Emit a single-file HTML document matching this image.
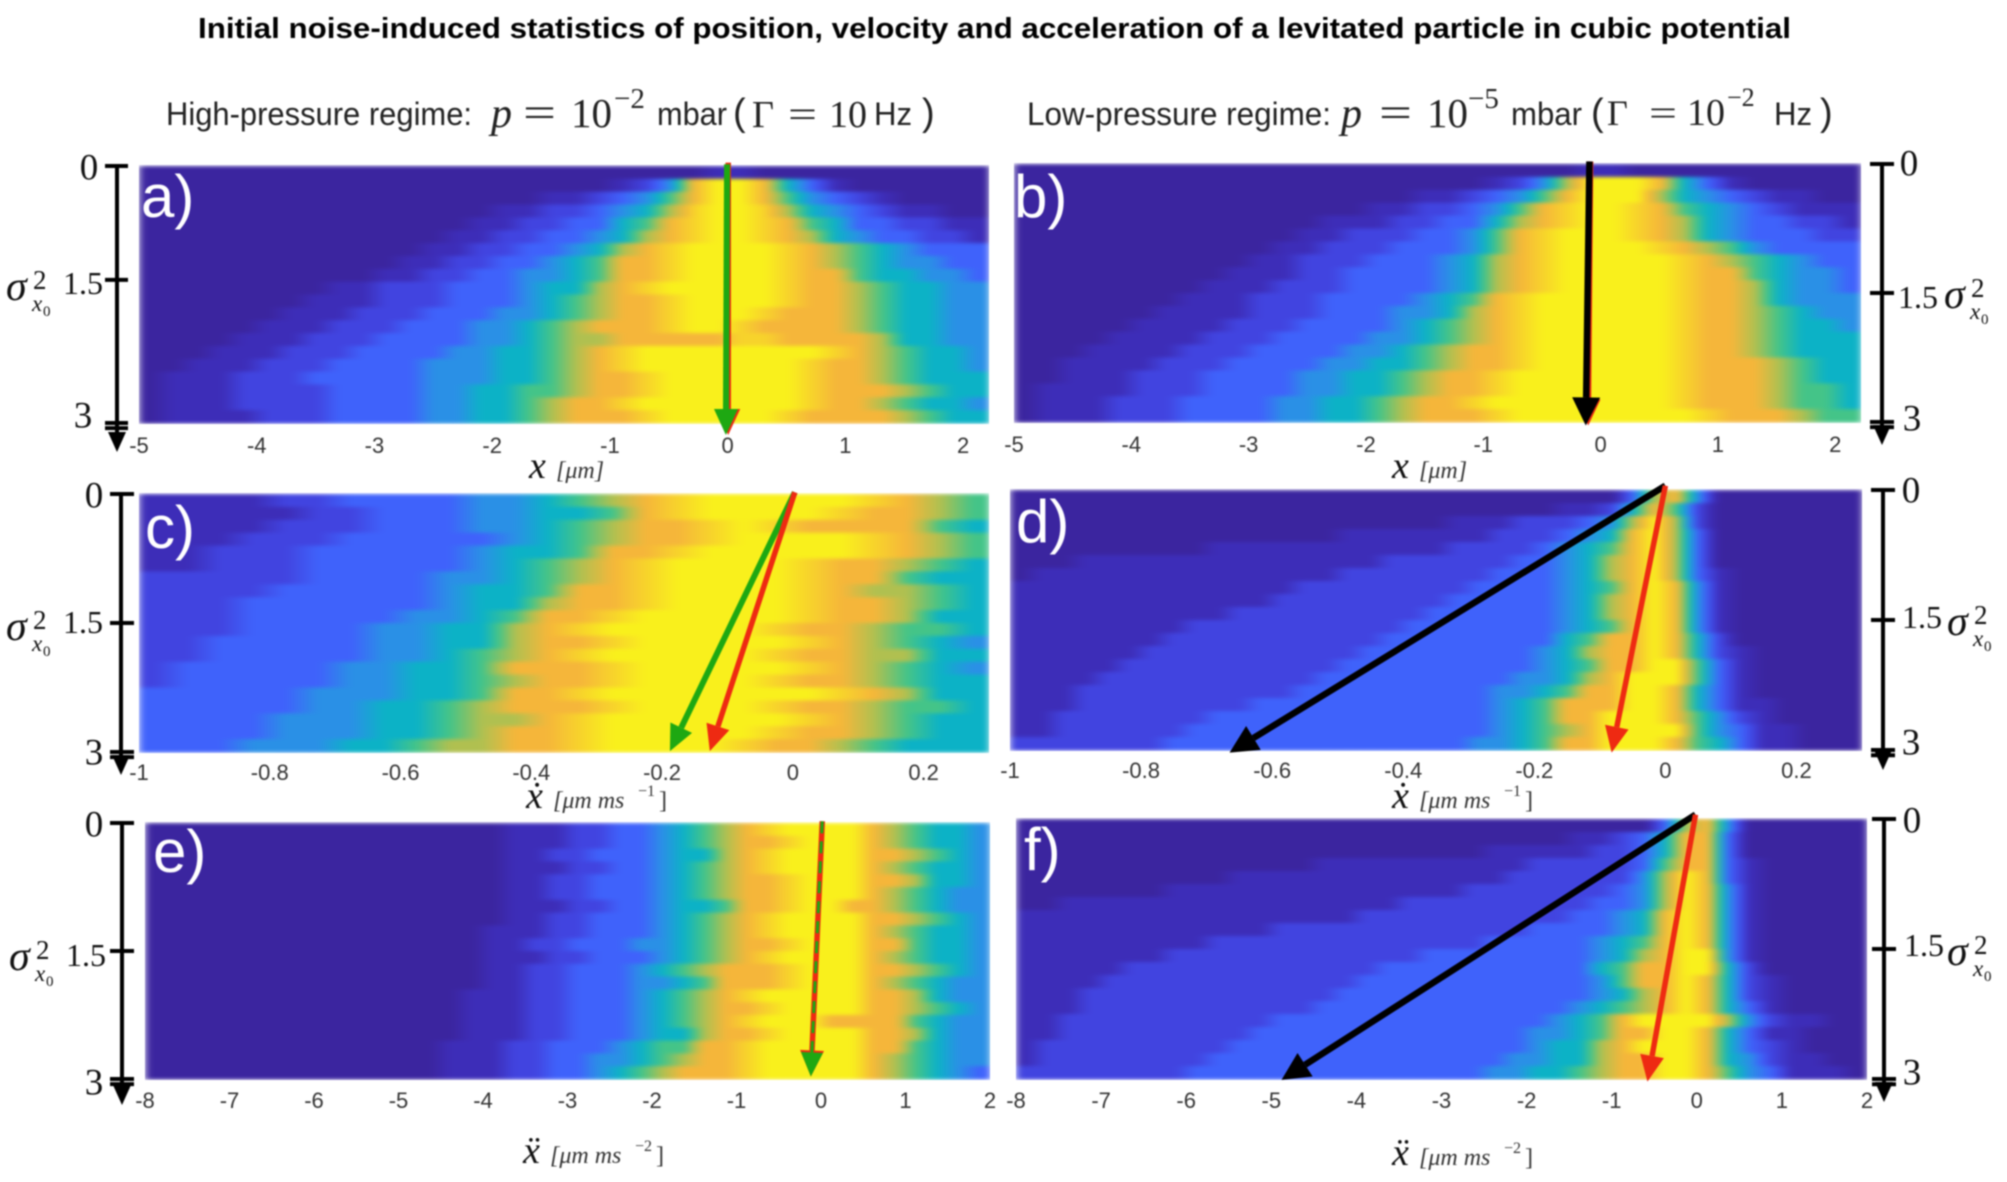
<!DOCTYPE html>
<html lang="en">
<head>
<meta charset="utf-8">
<title>Initial noise-induced statistics of a levitated particle</title>
<style>
html,body{margin:0;padding:0;background:#fff;width:2007px;height:1182px;overflow:hidden}
svg{display:block;filter:blur(0.7px)}
.sans{font-family:"Liberation Sans",sans-serif}
.serif{font-family:"Liberation Serif",serif}
.ital{font-family:"Liberation Serif",serif;font-style:italic}
</style>
</head>
<body>
<svg id="figure" xmlns="http://www.w3.org/2000/svg" width="2007" height="1182" viewBox="0 0 2007 1182">
<defs id="defs">
<filter id="row-blur" x="-2%" y="-4%" width="104%" height="108%" color-interpolation-filters="sRGB"><feGaussianBlur stdDeviation="4 1.8"/></filter>
</defs>
<rect x="0" y="0" width="2007" height="1182" fill="#fff"/>
<text class="sans" x="198" y="38" font-size="29" font-weight="bold" fill="#000" textLength="1593" lengthAdjust="spacingAndGlyphs">Initial noise-induced statistics of position, velocity and acceleration of a levitated particle in cubic potential</text>

<g fill="#222">
<text class="sans" x="166" y="125" font-size="32" textLength="306" lengthAdjust="spacingAndGlyphs">High-pressure regime:</text>
<text class="ital" x="491" y="127" font-size="42">p</text>
<text class="serif" x="523" y="127" font-size="42" textLength="33" lengthAdjust="spacingAndGlyphs">=</text>
<text class="serif" x="571" y="127" font-size="41">10</text>
<text class="serif" x="614" y="108" font-size="29">−2</text>
<text class="sans" x="657" y="125" font-size="32" textLength="70" lengthAdjust="spacingAndGlyphs">mbar</text>
<text class="sans" x="733" y="125" font-size="38">(</text>
<text class="serif" x="752" y="127" font-size="38">Γ</text>
<text class="serif" x="788" y="127" font-size="38" textLength="29" lengthAdjust="spacingAndGlyphs">=</text>
<text class="serif" x="829" y="127" font-size="38">10</text>
<text class="sans" x="874" y="125" font-size="32" textLength="38" lengthAdjust="spacingAndGlyphs">Hz</text>
<text class="sans" x="922" y="125" font-size="38">)</text>
</g>
<g fill="#222">
<text class="sans" x="1027" y="125" font-size="32" textLength="304" lengthAdjust="spacingAndGlyphs">Low-pressure regime:</text>
<text class="ital" x="1341" y="127" font-size="42">p</text>
<text class="serif" x="1379" y="127" font-size="42" textLength="33" lengthAdjust="spacingAndGlyphs">=</text>
<text class="serif" x="1427" y="127" font-size="41">10</text>
<text class="serif" x="1468" y="108" font-size="29">−5</text>
<text class="sans" x="1511" y="125" font-size="32" textLength="71" lengthAdjust="spacingAndGlyphs">mbar</text>
<text class="sans" x="1591" y="125" font-size="38">(</text>
<text class="serif" x="1607" y="125" font-size="36">Γ</text>
<text class="serif" x="1649" y="125" font-size="36" textLength="28" lengthAdjust="spacingAndGlyphs">=</text>
<text class="serif" x="1687" y="125" font-size="38">10</text>
<text class="serif" x="1727" y="106" font-size="26">−2</text>
<text class="sans" x="1774" y="125" font-size="32" textLength="38" lengthAdjust="spacingAndGlyphs">Hz</text>
<text class="sans" x="1820" y="125" font-size="38">)</text>
</g>
<g id="panels"></g>
</svg>
<script>
/* Tick labels and axis values */
const sigmaTickLabels = ['0', '1.5', '3'];
const positionTicks = [-5, -4, -3, -2, -1, 0, 1, 2];
const velocityTicks = [-1, -0.8, -0.6, -0.4, -0.2, 0, 0.2];
const accelerationTicks = [-8, -7, -6, -5, -4, -3, -2, -1, 0, 1, 2];

/* Arrow data: x value at sigma start and sigma end, one entry per arrow */
const arrowPanels = ['a', 'a', 'b', 'b', 'c', 'c', 'd', 'd', 'e', 'e', 'f', 'f'];
const arrowKinds = ['red', 'green', 'red', 'black', 'green', 'red', 'black', 'red', 'red', 'greendash', 'black', 'red'];
const arrowStartX = [0.005, -0.005, -0.085, -0.095, 0.003, 0.003, 0, 0, 0.015, 0.015, -0.015, -0.015];
const arrowEndX = [0.005, -0.015, -0.105, -0.126, -0.188, -0.127, -0.665, -0.082, -0.12, -0.12, -4.88, -0.58];
const arrowStartSigma = [-0.04, -0.02, -0.03, -0.03, -0.02, -0.02, -0.05, -0.05, -0.02, -0.02, -0.05, -0.05];
const arrowEndSigma = [3.14, 3.14, 3.04, 3.04, 2.99, 2.99, 3.03, 3.03, 2.97, 2.97, 3.01, 3.03];

/* Heatmap intensity levels (0 low ... 9 high), rows run from sigma 0 to sigma 3 */
const panelAValues = [
[0,0,0,0,0,0,0,0,0,0,0,0,0,0,0,0,0,0,0,0,0,0,0,0,1,1,0,0,0,0,0,0,0,0,0,0],
[0,0,0,0,0,0,0,0,0,0,0,0,0,0,0,0,0,0,0,0,1,2,4,8,9,9,8,5,3,1,0,0,0,0,0,0],
[0,0,0,0,0,0,0,0,0,0,0,0,0,0,0,0,0,1,1,2,3,4,6,8,9,9,8,6,4,3,2,1,0,0,0,0],
[0,0,0,0,0,0,0,0,0,0,0,0,0,0,0,1,1,2,2,3,4,5,7,8.5,9,9,8.5,7,5,4,3,2,1,1,0,0],
[0,0,0,0,0,0,0,0,0,0,0,0,0,0,1,1,2,2,3,3,5,6,8,8.5,9,9,8.5,8,6,5,3,3,2,2,1,1],
[0,0,0,0,0,0,0,0,0,0,0,0,0,1,1,2,2,3,3,4,5,7,8,8.5,9,9,8.5,8,7,5,4,3,3,2,2,1],
[0,0,0,0,0,0,0,0,0,0,0,0,1,1,2,2,3,3,4,5,7,8,8.5,9,9,9,9,8.5,8,7,6,5,4,3,3,3],
[0,0,0,0,0,0,0,0,0,0,0,1,1,2,2,3,3,4,5,6,8,8,8.5,9,9,9,9,8.5,8,7,6,5,4,4,3,3],
[0,0,0,0,0,0,0,0,0,0,1,1,2,2,3,3,4,4,5,6,8,8,8.5,9,9,9,9,8.5,8,8,6,5,5,4,4,3],
[0,0,0,0,0,0,0,0,1,1,2,2,2,3,3,3,4,5,5,7,8,8.5,9,9,9,9,9,8.5,8,8,7,6,5,5,4,4],
[0,0,0,0,0,0,0,1,1,1,2,2,2,3,3,3,4,5,6,7,8,8,8.5,9,9,9,9,8.5,8,8,7,6,5,5,4,4],
[0,0,0,0,0,0,1,1,1,2,2,2,3,3,3,4,4,5,6,7,8,8,8.5,9,9,9,8.5,8,8,8,7,6,5,5,4,4],
[0,0,0,0,0,1,1,1,2,2,2,3,3,3,4,4,5,6,7,8,8,8,8.5,9,9,8.5,8,8,8,8,7,6,5,5,4,4],
[0,0,0,0,1,1,1,2,2,2,3,3,3,3,4,4,5,6,7,7,8,8,8,8,8,8.5,8.5,8,8,8,8,7,5,5,4,4],
[0,0,0,1,1,1,2,2,2,3,3,3,3,4,4,5,5,6,7,8,8.5,9,9,9,9,9,9,9,9,8.5,8,7,6,5,5,4],
[0,0,1,1,1,2,2,2,3,3,3,3,4,4,4,5,5,6,7,8,8.5,9,9,9,9,9,9,9,8.5,8,8,7,6,5,5,4],
[0,1,1,1,2,2,2,3,3,3,3,3,4,4,4,5,5,6,7,8,8,8.5,9,9,9,9,9,9,8.5,8,8,7,6,5,5,5],
[0,1,1,1,2,2,2,2,3,3,3,3,4,4,5,5,6,6,7,8,8,8.5,9,9,9,9,9,9,8.5,8,8,8,7,6,5,5],
[0,1,1,1,2,2,2,2,3,3,3,3,4,4,5,5,6,7,8,8,8.5,9,9,9,9,9,9,9,8.5,8,8,7,6,5,5,4],
[0,1,1,1,1,2,2,2,3,3,3,3,4,4,5,5,6,7,8,8,8,8.5,9,9,9,9,9,8.5,8,8,8,8,7,6,5,5]
];
const panelBValues = [
[0,0,0,0,0,0,0,0,0,0,0,0,0,0,0,0,0,0,0,0,0,0,0,0,1,1,0,0,0,0,0,0,0,0,0,0],
[0,0,0,0,0,0,0,0,0,0,0,0,0,0,0,0,0,0,0,0,1,2,4,7,9,9,9,8,5,3,1,0,0,0,0,0],
[0,0,0,0,0,0,0,0,0,0,0,0,0,0,0,0,0,1,1,2,3,4,6,8,9,9,9,7,5,4,3,2,1,1,0,0],
[0,0,0,0,0,0,0,0,0,0,0,0,0,0,0,1,1,2,2,3,4,6,8,8.5,9,9,8.5,8,6,5,4,3,2,1,1,1],
[0,0,0,0,0,0,0,0,0,0,0,0,0,1,1,1,2,2,3,3,5,7,8,8.5,9,9,8.5,8,7,5,4,3,3,2,2,1],
[0,0,0,0,0,0,0,0,0,0,0,0,1,1,2,2,2,3,3,4,6,8,8.5,9,9,9,8.5,8,7,5,4,3,3,3,2,2],
[0,0,0,0,0,0,0,0,0,0,0,1,1,2,2,2,3,3,3,4,6,8,8.5,9,9,9,9,8.5,8,7,6,4,3,3,3,3],
[0,0,0,0,0,0,0,0,0,0,1,1,2,2,2,3,3,3,4,5,7,8,8.5,9,9,9,9,9,8.5,8,7,6,5,4,3,3],
[0,0,0,0,0,0,0,0,0,1,1,1,2,2,3,3,3,3,4,5,7,8,8.5,9,9,9,9,9,8.5,8,8,6,5,4,4,3],
[0,0,0,0,0,0,0,0,1,1,1,2,2,2,3,3,3,3,4,5,7,8,8.5,9,9,9,9,9,8.5,8,8,7,5,4,4,3],
[0,0,0,0,0,0,0,1,1,1,2,2,2,3,3,3,3,4,5,6,8,8.5,9,9,9,9,9,9,8.5,8,8,7,5,4,4,4],
[0,0,0,0,0,0,1,1,1,1,2,2,2,3,3,3,4,4,5,7,8,8.5,9,9,9,9,9,9,8.5,8,8,7,6,5,4,4],
[0,0,0,0,0,1,1,1,1,2,2,2,3,3,3,3,4,5,6,7,8,8.5,9,9,9,9,9,9,8.5,8,8,7,6,5,5,4],
[0,0,0,0,1,1,1,1,2,2,2,3,3,3,3,4,4,5,6,7,8,8.5,9,9,9,9,9,9,8.5,8,8,7,6,5,5,5],
[0,0,0,1,1,1,1,2,2,2,3,3,3,3,4,4,5,6,7,8,8,8.5,9,9,9,9,9,9,8.5,8,8,7,6,5,5,5],
[0,0,1,1,1,1,2,2,2,3,3,3,3,4,4,5,5,6,7,8,8,8.5,9,9,9,9,9,9,8.5,8,8,8,7,6,5,5],
[0,0,1,1,1,2,2,2,3,3,3,3,4,4,5,5,6,7,8,8,8.5,9,9,9,9,9,9,9,8.5,8,8,8,7,6,5,5],
[0,1,1,1,1,2,2,2,3,3,3,3,4,4,5,5,6,7,8,8,8.5,9,9,9,9,9,9,9,8.5,8,8,8,7,6,6,5],
[0,1,1,1,2,2,2,3,3,3,3,4,4,5,5,6,7,8,8,8.5,9,9,9,9,9,9,9,9,8.5,8,8,8,7,6,6,5],
[0,1,1,1,2,2,2,3,3,3,3,4,4,5,5,6,7,8,8,8,8.5,9,9,9,9,9,9,9,9,8.5,8,8,8,7,6,6]
];
const panelCValues = [
[1,1,1,1,2,2,3,3,3,3,4,4,5,6,7,8,8.5,9,9,9,9,9,8.5,8,7,6],
[1,1,1,1,1,2,2,3,3,3,4,4,5,5,6,8,8.5,9,9,9,9,8.5,8,8,7,6],
[1,1,1,1,2,2,2,3,3,3,4,4,5,6,7,8,8,8.5,9,8.5,8,8,8,8,6,5],
[1,1,1,2,2,2,3,3,3,3,3,4,5,6,7,8,8,8.5,9,9,9,9,8.5,8,7,6],
[1,1,2,2,2,3,3,3,3,3,4,5,5,6,8,8,8.5,9,9,9,9,9,8.5,8,7,6],
[1,1,2,2,2,3,3,3,3,3,4,5,6,7,8,8.5,9,9,9,9,8.5,8,8,7,6,5],
[2,2,2,2,2,3,3,3,3,4,4,5,6,7,8,8.5,9,9,9,9,8.5,8,8,6,5,5],
[2,2,2,2,3,3,3,3,3,4,5,5,6,8,8,8.5,9,9,9,9,8.5,8,7,7,6,5],
[2,2,2,3,3,3,3,3,3,4,5,5,7,8,8,8.5,9,9,9,9,8.5,8,8,7,6,5],
[2,2,2,3,3,3,3,3,4,4,5,6,8,8,8.5,9,9,9,9,9,8.5,8,8,7,5,5],
[2,2,2,3,3,3,3,4,4,5,5,7,8,8.5,9,9,9,9,9,8.5,8,8,7,6,6,5],
[2,2,3,3,3,3,3,4,4,5,5,7,8,8,8.5,9,9,9,9,9,8.5,8,7,6,5,4],
[2,2,3,3,3,3,3,4,4,5,6,7,8,8.5,9,9,9,9,9,8.5,8,8,7,7,5,5],
[2,3,3,3,3,3,4,4,5,5,6,8,8,8,8.5,9,9,9,9,9,8.5,8,7,6,5,4],
[2,3,3,3,3,3,4,4,5,5,6,7,8,8,8.5,9,9,9,9,8.5,8,8,7,6,5,5],
[3,3,3,3,3,4,4,4,5,5,6,8,8,8.5,9,9,9,9,9,9,9,8.5,8,7,5,5],
[3,3,3,3,3,4,4,5,5,6,7,8,8,8,8.5,9,9,9,9,8.5,8,8,7,6,6,5],
[3,3,3,3,4,4,4,5,5,6,7,7,8,8.5,9,9,9,9,9,9,8.5,8,7,6,5,5],
[3,3,3,3,4,4,4,5,5,6,7,8,8,8.5,9,9,9,9,9,8.5,8,8,7,6,5,5],
[3,3,3,4,4,4,5,5,6,7,7,8,8,8.5,9,9,9,9,8.5,8,8,7,6,5,5,5]
];
const panelDValues = [
[0,0,0,0,0,0,0,0,0,0,0,0,0,0,0,0,0,0,0,0,0,0,0,0,0,0,0,0,3,7,8,4,0,0,0,0,0,0,0],
[0,0,0,0,0,0,0,0,0,0,0,0,0,0,0,0,0,0,0,0,0,0,0,0,0,1,1,2,5,8,6,2,0,0,0,0,0,0,0],
[0,0,0,0,0,0,0,0,0,0,0,0,0,0,0,0,0,0,0,0,1,1,1,2,2,2,3,4,7,9,7,2,0,0,0,0,0,0,0],
[0,0,0,0,0,0,0,0,0,0,0,0,0,0,0,1,1,1,1,1,1,1,2,2,2,3,4,5,8,9,7,3,0,0,0,0,0,0,0],
[0,0,0,0,0,0,0,0,0,1,1,1,1,1,1,1,1,1,1,1,2,2,2,2,3,4,5,6,8,9,7,3,0,0,0,0,0,0,0],
[0,0,0,1,1,1,1,1,1,1,1,1,1,1,1,1,1,2,2,2,2,2,2,3,3,4,5,7,8,9,7,3,0,0,0,0,0,0,0],
[0,1,1,1,1,1,1,1,1,1,1,1,1,1,1,2,2,2,2,2,2,2,3,3,3,4,5,7,8,9,7,3,1,0,0,0,0,0,0],
[1,1,1,1,1,1,1,1,1,1,1,1,1,2,2,2,2,2,2,2,2,3,3,3,3,4,5,6,8,9,8,4,1,0,0,0,0,0,0],
[1,1,1,1,1,1,1,1,1,1,1,1,2,2,2,2,2,2,2,2,3,3,3,3,3,4,5,7,8,9,8,4,1,0,0,0,0,0,0],
[1,1,1,1,1,1,1,1,1,1,2,2,2,2,2,2,2,2,2,3,3,3,3,3,3,4,5,7,8,9,8,4,1,0,0,0,0,0,0],
[1,1,1,1,1,1,1,1,2,2,2,2,2,2,2,2,2,2,3,3,3,3,3,3,3,4,5,6,8,9,8,4,1,0,0,0,0,0,0],
[1,1,1,1,1,1,1,2,2,2,2,2,2,2,2,2,2,3,3,3,3,3,3,3,3,5,6,8,8,9,8,5,2,0,0,0,0,0,0],
[1,1,1,1,1,1,2,2,2,2,2,2,2,2,2,2,3,3,3,3,3,3,3,3,4,5,7,8,8,9,8,5,2,1,0,0,0,0,0],
[1,1,1,1,1,2,2,2,2,2,2,2,2,2,2,3,3,3,3,3,3,3,3,3,4,5,6,8,8,9,9,6,3,1,0,0,0,0,0],
[1,1,1,1,2,2,2,2,2,2,2,2,2,2,3,3,3,3,3,3,3,3,3,4,4,5,7,8,9,9,9,6,3,1,0,0,0,0,0],
[1,1,1,2,2,2,2,2,2,2,2,2,2,3,3,3,3,3,3,3,3,3,4,4,5,6,8,8,9,9,8,5,3,1,0,0,0,0,0],
[1,1,1,2,2,2,2,2,2,2,2,3,3,3,3,3,3,3,3,3,3,3,4,5,6,8,8,8,9,9,8,5,3,1,1,0,0,0,0],
[1,1,2,2,2,2,2,2,2,3,3,3,3,3,3,3,3,3,3,3,3,3,4,5,6,8,8,9,9,9,8,6,4,2,1,0,0,0,0],
[1,1,2,2,2,2,2,2,3,3,3,3,3,3,3,3,3,3,3,3,3,3,4,5,6,7,8,9,9,9,9,6,4,3,1,1,0,0,0],
[2,2,2,2,2,2,2,3,3,3,3,3,3,3,3,3,3,3,3,3,3,4,4,5,6,8,8,9,9,9,8,6,5,3,1,1,0,0,0]
];
const panelEValues = [
[0,0,0,0,0,0,0,0,0,0,0,0,0,0,0,0,0,1,1,1,2,2,3,3,4,5,6,7,8,8.5,9,9,9,9,8,7,6,5,5,4],
[0,0,0,0,0,0,0,0,0,0,0,0,0,0,0,0,0,1,1,1,2,2,3,3,4,5,6,7,8,8,8.5,9,9,9,8,7,6,5,5,4],
[0,0,0,0,0,0,0,0,0,0,0,0,0,0,0,0,0,1,1,2,2,3,3,3,4,5,5,7,8,8.5,9,9,9,9,8,8,7,6,5,4],
[0,0,0,0,0,0,0,0,0,0,0,0,0,0,0,0,0,1,1,1,2,2,3,3,4,5,6,7,8,8.5,9,9,9,9,8,7,6,5,5,4],
[0,0,0,0,0,0,0,0,0,0,0,0,0,0,0,0,0,1,1,2,2,3,3,3,4,5,6,7,8,8,8.5,9,9,9,8,8,7,5,5,4],
[0,0,0,0,0,0,0,0,0,0,0,0,0,0,0,0,0,1,1,2,2,3,3,3,4,5,6,7,8,8,8.5,9,9,9,8,7,6,5,4,4],
[0,0,0,0,0,0,0,0,0,0,0,0,0,0,0,0,0,1,1,1,2,2,3,3,4,5,5,6,8,8,8.5,9,9,8,8,7,6,5,4,4],
[0,0,0,0,0,0,0,0,0,0,0,0,0,0,0,0,0,1,1,2,2,3,3,3,4,5,6,7,8,8.5,9,9,9,9,8,8,7,6,5,4],
[0,0,0,0,0,0,0,0,0,0,0,0,0,0,0,0,1,1,1,2,2,3,3,3,4,5,6,7,8,8.5,9,9,9,9,8,7,6,5,5,4],
[0,0,0,0,0,0,0,0,0,0,0,0,0,0,0,0,1,1,2,2,3,3,3,4,4,5,6,7,8,8,8.5,9,9,9,8,8,6,5,5,4],
[0,0,0,0,0,0,0,0,0,0,0,0,0,0,0,0,1,1,1,2,2,3,3,3,4,5,6,7,8,8.5,9,9,9,9,8,7,6,5,5,4],
[0,0,0,0,0,0,0,0,0,0,0,0,0,0,0,0,1,1,2,2,3,3,3,4,5,6,7,8,8,8,8.5,9,9,9,8,8,7,6,5,4],
[0,0,0,0,0,0,0,0,0,0,0,0,0,0,0,0,1,1,2,2,3,3,3,4,4,5,6,8,8,8,8.5,9,9,9,8,7,6,5,4,4],
[0,0,0,0,0,0,0,0,0,0,0,0,0,0,0,1,1,1,2,2,3,3,3,4,5,6,7,8,8.5,9,9,9,9,9,8,8,7,5,4,4],
[0,0,0,0,0,0,0,0,0,0,0,0,0,0,0,1,1,1,2,2,3,3,3,4,5,6,7,8,8,8.5,9,9,9,9,8,8,7,6,5,4],
[0,0,0,0,0,0,0,0,0,0,0,0,0,0,0,1,1,1,2,2,3,3,3,4,5,6,7,8,8.5,9,9,9,8,8,8,8,6,5,4,4],
[0,0,0,0,0,0,0,0,0,0,0,0,0,0,0,1,1,1,2,2,3,3,3,4,5,5,7,8,8,8.5,9,9,9,9,8,8,7,5,4,4],
[0,0,0,0,0,0,0,0,0,0,0,0,0,0,1,1,1,2,2,3,3,3,4,5,6,6,8,8,8.5,9,9,9,9,9,8,8,6,5,4,4],
[0,0,0,0,0,0,0,0,0,0,0,0,0,0,1,1,1,2,2,3,3,4,4,5,6,7,8,8,8.5,9,9,9,9,9,8,7,6,5,4,4],
[0,0,0,0,0,0,0,0,0,0,0,0,0,0,1,1,1,2,2,3,3,4,5,6,7,8,8,8,8.5,9,9,9,9,9,8,7,6,5,4,3]
];
const panelFValues = [
[0,0,0,0,0,0,0,0,0,0,0,0,0,0,0,0,0,0,0,0,0,0,0,0,0,0,0,0,0,0,3,7,8,4,0,0,0,0,0,0],
[0,0,0,0,0,0,0,0,0,0,0,0,0,0,0,0,0,0,0,0,0,0,0,0,0,0,1,1,2,3,5,8,8,3,0,0,0,0,0,0],
[0,0,0,0,0,0,0,0,0,0,0,0,0,0,0,0,0,0,0,0,0,0,1,1,1,1,1,2,2,3,5,8,8,3,0,0,0,0,0,0],
[0,0,0,0,0,0,0,0,0,0,0,0,0,0,1,1,1,1,1,1,1,1,1,1,2,2,2,2,2,3,6,8,8,3,1,0,0,0,0,0],
[0,0,0,0,0,0,0,0,0,0,1,1,1,1,1,1,1,1,1,1,1,1,1,2,2,2,2,2,2,4,7,9,8,3,1,0,0,0,0,0],
[0,0,0,0,0,0,0,1,1,1,1,1,1,1,1,1,1,1,1,1,1,2,2,2,2,2,2,2,3,4,7,9,8,4,1,0,0,0,0,0],
[0,0,1,1,1,1,1,1,1,1,1,1,1,1,1,1,1,1,2,2,2,2,2,2,2,2,2,3,3,4,7,9,8,4,1,0,0,0,0,0],
[1,1,1,1,1,1,1,1,1,1,1,1,1,1,1,1,2,2,2,2,2,2,2,2,2,2,3,3,4,5,8,9,8,4,1,0,0,0,0,0],
[1,1,1,1,1,1,1,1,1,1,1,1,2,2,2,2,2,2,2,2,2,2,2,2,3,3,3,3,4,5,8,9,8,4,1,0,0,0,0,0],
[1,1,1,1,1,1,1,1,1,2,2,2,2,2,2,2,2,2,2,2,2,2,3,3,3,3,3,4,5,6,8,9,8,4,1,0,0,0,0,0],
[1,1,1,1,1,1,1,2,2,2,2,2,2,2,2,2,2,2,2,3,3,3,3,3,3,3,3,4,5,7,8,9,9,4,1,0,0,0,0,0],
[1,1,1,1,1,2,2,2,2,2,2,2,2,2,2,2,2,3,3,3,3,3,3,3,3,3,3,5,6,8,8,9,9,5,2,0,0,0,0,0],
[1,1,1,1,2,2,2,2,2,2,2,2,2,2,2,2,3,3,3,3,3,3,3,3,3,3,3,4,6,8,8,9,8,5,2,1,0,0,0,0],
[1,1,1,2,2,2,2,2,2,2,2,2,2,2,2,3,3,3,3,3,3,3,3,3,3,3,3,4,5,7,8,9,8,5,2,1,0,0,0,0],
[1,1,1,2,2,2,2,2,2,2,2,2,2,2,3,3,3,3,3,3,3,3,3,3,3,3,4,5,6,7,8,9,8,5,3,1,0,0,0,0],
[1,1,2,2,2,2,2,2,2,2,2,2,3,3,3,3,3,3,3,3,3,3,3,3,3,4,5,6,8,9,9,9,9,7,4,2,1,1,0,0],
[1,1,2,2,2,2,2,2,2,2,2,3,3,3,3,3,3,3,3,3,3,3,3,3,4,4,5,6,8,8,9,9,8,5,3,1,1,0,0,0],
[1,2,2,2,2,2,2,2,2,2,3,3,3,3,3,3,3,3,3,3,3,3,3,3,4,5,5,7,8,9,9,9,8,5,3,2,1,0,0,0],
[1,2,2,2,2,2,2,2,2,3,3,3,3,3,3,3,3,3,3,3,3,3,3,4,4,5,5,7,8,8,9,9,8,5,4,2,1,1,0,0],
[2,2,2,2,2,2,2,2,3,3,3,3,3,3,3,3,3,3,3,3,3,3,4,4,5,5,6,7,8,8,9,9,8,6,4,3,1,1,1,0]
];

/* Colour ramp for the levels */
const levelColors = ['#3B259F', '#3D2DB8', '#4144E0', '#3F62FB', '#2A90E6', '#0CB2C6', '#44C488', '#B0C050', '#F5B63A', '#F9F01C'];

/* Layout */
const panelLayouts = [
 {id:'a', values:panelAValues, ticks:positionTicks, left:139, right:989, top:166, bottom:423, domain:[-5,2.22], tickY:445, midSigma:1.33,
  side:'left', axisX:117, tickFrom:105, tickTo:128, axisTipY:452, zeroLabel:[89,167], midLabel:[83,283], endLabel:[83,415], sigma:[6,300],
  letter:'a)', letterPos:[141,217], xLabel:'x', unit:'[μm]', unitSup:'', xLabelPos:[529,478]},
 {id:'b', values:panelBValues, ticks:positionTicks, left:1014, right:1861, top:164, bottom:422, domain:[-5,2.22], tickY:444, midSigma:1.5,
  side:'right', axisX:1882, tickFrom:1870, tickTo:1894, axisTipY:445, zeroLabel:[1909,163], midLabel:[1918,297], endLabel:[1912,418], sigma:[1944,308],
  letter:'b)', letterPos:[1014,217], xLabel:'x', unit:'[μm]', unitSup:'', xLabelPos:[1392,478]},
 {id:'c', values:panelCValues, ticks:velocityTicks, left:139, right:989, top:494, bottom:752, domain:[-1,0.3], tickY:772, midSigma:1.5,
  side:'left', axisX:121, tickFrom:110, tickTo:134, axisTipY:775, zeroLabel:[94,495], midLabel:[83,622], endLabel:[94,752], sigma:[6,640],
  letter:'c)', letterPos:[145,548], xLabel:'ẋ', unit:'[μm ms', unitSup:'−1', xLabelPos:[526,808]},
 {id:'d', values:panelDValues, ticks:velocityTicks, left:1010, right:1862, top:490, bottom:750, domain:[-1,0.3], tickY:770, midSigma:1.5,
  side:'right', axisX:1883, tickFrom:1871, tickTo:1895, axisTipY:770, zeroLabel:[1911,490], midLabel:[1922,617], endLabel:[1911,742], sigma:[1947,635],
  letter:'d)', letterPos:[1016,542], xLabel:'ẋ', unit:'[μm ms', unitSup:'−1', xLabelPos:[1392,808]},
 {id:'e', values:panelEValues, ticks:accelerationTicks, left:145, right:990, top:823, bottom:1079, domain:[-8,2], tickY:1100, midSigma:1.5,
  side:'left', axisX:122, tickFrom:110, tickTo:134, axisTipY:1105, zeroLabel:[94,824], midLabel:[86,955], endLabel:[94,1082], sigma:[9,970],
  letter:'e)', letterPos:[153,872], xLabel:'ẍ', unit:'[μm ms', unitSup:'−2', xLabelPos:[523,1163]},
 {id:'f', values:panelFValues, ticks:accelerationTicks, left:1016, right:1867, top:819, bottom:1079, domain:[-8,2], tickY:1100, midSigma:1.5,
  side:'right', axisX:1884, tickFrom:1872, tickTo:1896, axisTipY:1102, zeroLabel:[1912,820], midLabel:[1924,945], endLabel:[1912,1072], sigma:[1947,965],
  letter:'f)', letterPos:[1024,870], xLabel:'ẍ', unit:'[μm ms', unitSup:'−2', xLabelPos:[1392,1165]}
];
const arrowStyles = {
 red:{stroke:'#EE2A12', width:5.5, head:[24,26], dash:''},
 green:{stroke:'#1EA812', width:6, head:[24,26], dash:''},
 greendash:{stroke:'#1EA812', width:3, head:[22,24], dash:'12 8'},
 black:{stroke:'#000000', width:6.5, head:[28,28], dash:''}
};

const SVGNS = 'http://www.w3.org/2000/svg';
const defs = document.getElementById('defs');
const root = document.getElementById('panels');

function make(tag, parent, attrs) {
  const node = document.createElementNS(SVGNS, tag);
  Object.keys(attrs).forEach(function (k) { node.setAttribute(k, attrs[k]); });
  parent.appendChild(node);
  return node;
}
function xScale(p, v) { return p.left + (v - p.domain[0]) / (p.domain[1] - p.domain[0]) * (p.right - p.left); }
function yScale(p, s) { return p.top + s / 3 * (p.bottom - p.top); }
function hex(c) { return [parseInt(c.slice(1,3),16), parseInt(c.slice(3,5),16), parseInt(c.slice(5,7),16)]; }
function colorFor(v) {
  const c = Math.max(0, Math.min(levelColors.length - 1, v));
  const i = Math.min(levelColors.length - 2, Math.floor(c));
  const t = c - i, a = hex(levelColors[i]), b = hex(levelColors[i + 1]);
  return 'rgb(' + a.map(function (x, j) { return Math.round(x + (b[j] - x) * t); }).join(',') + ')';
}

function drawHeatmap(p, group) {
  const clip = make('clipPath', defs, {id:'clip-' + p.id});
  
  
  make('rect', clip, {x:p.left, y:p.top - 1, width:p.right - p.left, height:p.bottom - p.top + 2});
  const frame = make('g', group, {'clip-path':'url(#clip-' + p.id + ')'});
  
  
  const hm = make('g', frame, {filter:'url(#row-blur)'});
  
  
  const rowH = (p.bottom - p.top) / p.values.length;
  p.values.forEach(function (row, r) {
    const n = row.length, w = (p.right - p.left) / n;
    const gid = 'grad-' + p.id + '-' + r;
    const grad = make('linearGradient', defs, {id:gid, gradientUnits:'userSpaceOnUse', x1:p.left, x2:p.right, y1:0, y2:0});
    
    
    for (let k = 0; k < n; k++) {
      const next = k < n - 1 ? row[k + 1] : row[k];
      for (let s = 0; s < 4; s++) {
        const t = s / 4;
        make('stop', grad, {offset:((k + 0.5 + t) / n).toFixed(5), 'stop-color':colorFor(row[k] + (next - row[k]) * t)});
      }
    }
    row.forEach(function (v, k) {
      const cell = make('rect', hm, {x:(p.left + k * w).toFixed(2), y:(p.top + r * rowH).toFixed(2), width:(w + 0.7).toFixed(2), height:(rowH + 0.7).toFixed(2), fill:'url(#' + gid + ')', 'data-value':v});
      
      
    });
  });
}

function drawArrow(p, group, idx) {
  const st = arrowStyles[arrowKinds[idx]];
  const x0 = xScale(p, arrowStartX[idx]), y0 = yScale(p, arrowStartSigma[idx]);
  const x1 = xScale(p, arrowEndX[idx]), y1 = yScale(p, arrowEndSigma[idx]);
  const len = Math.hypot(x1 - x0, y1 - y0), ux = (x1 - x0) / len, uy = (y1 - y0) / len;
  const hl = st.head[1], hw = st.head[0] / 2;
  const bx = x1 - ux * hl, by = y1 - uy * hl;
  const a = make('g', group, {});
  
  
  const line = make('line', a, {x1:x0, y1:y0, x2:bx, y2:by, stroke:st.stroke, 'stroke-width':st.width});
  if (st.dash) { line.setAttribute('stroke-dasharray', st.dash); }
  
  
  const head = make('polygon', a, {points:[x1, y1, bx - uy * hw, by + ux * hw, bx + uy * hw, by - ux * hw].join(','), fill:st.stroke});
  
  
}

function drawYAxis(p, group) {
  const ax = make('g', group, {});
  
  
  const spine = make('line', ax, {x1:p.axisX, x2:p.axisX, y1:p.top, y2:p.axisTipY - 16, stroke:'#000', 'stroke-width':4});
  
  
  const tip = make('polygon', ax, {points:[p.axisX - 9, p.axisTipY - 20, p.axisX + 9, p.axisTipY - 20, p.axisX, p.axisTipY].join(','), fill:'#000'});
  
  
  [0, p.midSigma, 3, 3.06].forEach(function (s) {
    const t = make('line', ax, {x1:p.tickFrom, x2:p.tickTo, y1:yScale(p, s), y2:yScale(p, s), stroke:'#000', 'stroke-width':4});
    
    
  });
  [p.zeroLabel, p.midLabel, p.endLabel].forEach(function (pos, i) {
    const size = i === 1 ? 32 : 37;
    const t = make('text', ax, {x:pos[0], y:pos[1] + size * 0.34, 'font-size':size, 'text-anchor':'middle', fill:'#111', class:'serif'});
    t.textContent = sigmaTickLabels[i];
    
    
  });
  const sx = p.sigma[0], sy = p.sigma[1];
  const title = make('g', ax, {fill:'#111'});
  
  
  const s1 = make('text', title, {x:sx, y:sy, 'font-size':42, class:'ital'});
  s1.textContent = 'σ';
  
  
  const s2 = make('text', title, {x:sx + 27, y:sy - 11, 'font-size':27, class:'serif'});
  s2.textContent = '2';
  
  
  const s3 = make('text', title, {x:sx + 26, y:sy + 11, 'font-size':23, class:'ital'});
  s3.textContent = 'x';
  
  
  const s4 = make('text', title, {x:sx + 37, y:sy + 16, 'font-size':15, class:'serif'});
  s4.textContent = '0';
  
  
}

function drawXAxis(p, group) {
  const ax = make('g', group, {});
  
  
  p.ticks.forEach(function (v) {
    const t = make('text', ax, {x:xScale(p, v), y:p.tickY + 8, 'font-size':22, 'text-anchor':'middle', fill:'#333', class:'sans'});
    t.textContent = String(v);
    
    
  });
  const lx = p.xLabelPos[0], ly = p.xLabelPos[1];
  const sym = make('text', ax, {x:lx, y:ly, 'font-size':38, fill:'#111', class:'ital'});
  sym.textContent = p.xLabel;
  
  
  const u = make('text', ax, {x:lx + 27, y:ly, 'font-size':24, fill:'#333', class:'ital'});
  u.textContent = p.unit;
  
  
  if (p.unitSup) {
    const e = make('text', ax, {x:lx + 112, y:ly - 12, 'font-size':16, fill:'#333', class:'serif'});
    e.textContent = p.unitSup;
    
    
    const c = make('text', ax, {x:lx + 133, y:ly, 'font-size':24, fill:'#333', class:'serif'});
    c.textContent = ']';
    
    
  }
}

panelLayouts.forEach(function (p) {
  const group = make('g', root, {});
  
  
  drawHeatmap(p, group);
  const letter = make('text', group, {x:p.letterPos[0], y:p.letterPos[1], 'font-size':60, fill:'#fff', class:'sans'});
  letter.textContent = p.letter;
  
  
  arrowPanels.forEach(function (id, i) { if (id === p.id) { drawArrow(p, group, i); } });
  drawYAxis(p, group);
  drawXAxis(p, group);
});
</script>
</body>
</html>
